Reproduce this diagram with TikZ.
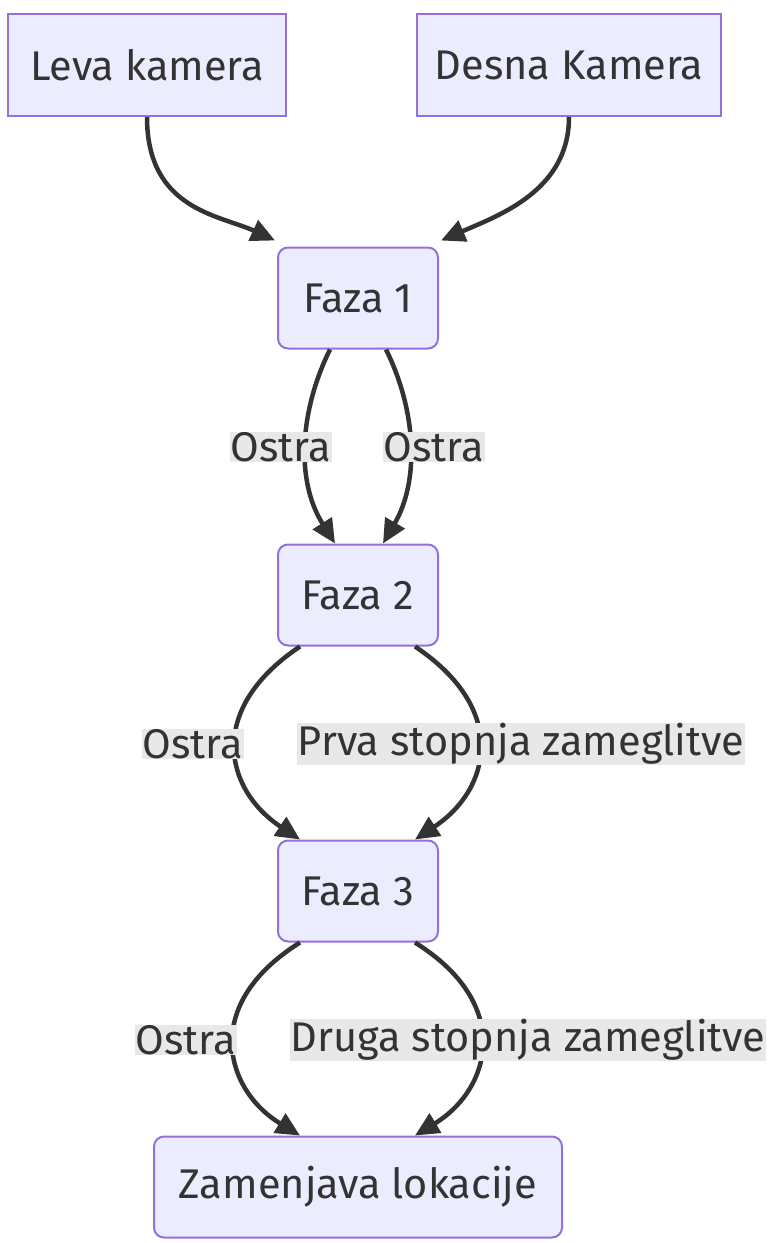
\documentclass[tikz,border=0pt]{standalone}
\usepackage{fontspec}
\setmainfont{Fira Sans}
\usetikzlibrary{arrows.meta}
\definecolor{nfill}{HTML}{ECECFF}
\definecolor{nborder}{HTML}{9370DB}
\definecolor{txt}{HTML}{333333}
\definecolor{lbl}{HTML}{E8E8E8}
\begin{document}
\begin{tikzpicture}[x=1pt,y=-1pt,
  box/.style={draw=nborder,fill=nfill,line width=2pt,text=txt,font=\fontsize{41.5}{46}\selectfont,inner sep=0pt},
  rbox/.style={box,rounded corners=10pt},
  edge/.style={draw=txt,line width=4.5pt,-{Triangle[length=24pt,width=22pt]}},
  elab/.style={fill=lbl,text=txt,font=\fontsize{41.5}{46}\selectfont,inner sep=0.5pt}]
\useasboundingbox (0,0) rectangle (784,1243);
\node[box,minimum width=278pt,minimum height=102pt] (lk) at (147,65) {Leva kamera};
\node[box,minimum width=304pt,minimum height=102pt] (dk) at (569,65) {Desna Kamera};
\node[rbox,minimum width=160pt,minimum height=101pt] (f1) at (358,298) {Faza 1};
\node[rbox,minimum width=160pt,minimum height=101pt] (f2) at (358,595) {Faza 2};
\node[rbox,minimum width=160pt,minimum height=101pt] (f3) at (358,891) {Faza 3};
\node[rbox,minimum width=408pt,minimum height=101pt] (z) at (358,1187) {Zamenjava lokacije};
\draw[edge] (lk.south) .. controls (147,210) and (220,215) .. ([xshift=-2pt,yshift=6pt]f1.north west);
\draw[edge] (dk.south) .. controls (569,190) and (500,215) .. ([xshift=2pt,yshift=6pt]f1.north east);
\draw[edge] ([xshift=-28pt]f1.south) .. controls (300,410) and (295,480) .. ([xshift=-23pt]f2.north);
\draw[edge] ([xshift=28pt]f1.south) .. controls (416,410) and (420,480) .. ([xshift=25pt]f2.north);
\draw[edge] ([xshift=-58pt]f2.south) .. controls (205,710) and (225,790) .. ([xshift=-58pt]f3.north);
\draw[edge] ([xshift=57pt]f2.south) .. controls (510,710) and (490,790) .. ([xshift=57pt]f3.north);
\draw[edge] ([xshift=-58pt]f3.south) .. controls (200,1005) and (225,1090) .. ([xshift=-58pt]z.north);
\draw[edge] ([xshift=57pt]f3.south) .. controls (515,1005) and (490,1090) .. ([xshift=57pt]z.north);
\node[elab] (l1) at (281,447) {Ostra};
\node[elab] (l2) at (434,447) {Ostra};
\node[elab] (l3) at (193,744) {Ostra};
\node[elab] (l4) at (521,744) {Prva stopnja zameglitve};
\node[elab] (l5) at (186,1040) {Ostra};
\node[elab] (l6) at (528,1040) {Druga stopnja zameglitve};
\end{tikzpicture}
\end{document}
